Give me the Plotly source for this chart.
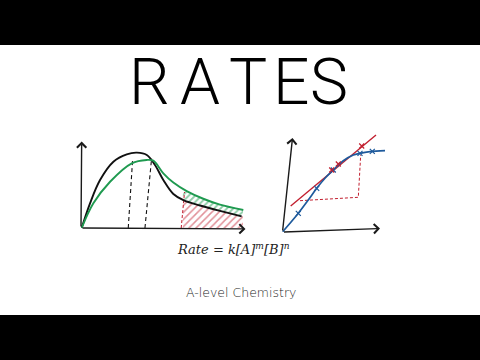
import plotly.graph_objects as go

W, H = 480, 360

# ---------- Left panel: Maxwell-Boltzmann distributions ----------
energy_black = [0.4, 5.4, 11.4, 19.4, 27.4, 33.5, 39.4, 44.3, 49.3, 55.3, 61.3, 71.3, 83.2, 96.2]
count_black = [0.0, 27.4, 53.3, 73.7, 81.9, 83.7, 81.1, 70.0, 53.3, 37.8, 31.0, 25.0, 19.0, 13.0]
energy_green = [0.4, 7.4, 17.4, 30.4, 39.3, 43.3, 49.3, 55.3, 63.3, 73.2, 83.2, 97.2]
count_green = [0.0, 27.4, 51.4, 71.9, 75.6, 74.8, 60.8, 50.5, 41.0, 32.5, 26.0, 20.0]
tail_energy = [61, 70, 80, 90, 97]
tail_black = [31.0, 26.0, 21.0, 16.0, 13.0]
tail_green = [42.0, 34.0, 28.0, 23.5, 20.0]
peak_black_x = [28.3, 30.9]
peak_black_y = [0, 75.9]
peak_green_x = [38.3, 42.3]
peak_green_y = [0, 77.8]
ea_x = [60.0, 62.0]
ea_y = [0, 40.0]
axis_left_x = [0.0, 0.4]
axis_left_y = [0.0, 96.0]
axis_bottom_x = [0.0, 98.5]
axis_bottom_y = [0.0, -1.0]

# ---------- Right panel: concentration-time curve ----------
time_blue = [0.7, 8, 16.3, 26.3, 34.7, 43, 51.3, 61.3, 71.3, 78, 88, 103]
conc_blue = [0.3, 8.7, 18.7, 32, 43.7, 53.7, 62, 71.3, 77, 78.7, 80.3, 81.3]
cross_t = [16.3, 34.7, 51.3, 78, 90.3]
cross_c = [18.7, 43.7, 62, 78.7, 80.7]
tangent_t = [8.7, 94]
tangent_c = [26, 97]
tangent_marks_t = [49.7, 56.3, 79.7]
tangent_marks_c = [62, 68, 86]
gradient_t = [18, 76.3, 78.7]
gradient_c = [31.3, 34.7, 77]
axis2_left_x = [0.5, 10.5]
axis2_left_y = [0.0, 94.0]
axis2_bottom_x = [0.5, 98.0]
axis2_bottom_y = [0.0, 3.5]

BLACK = "#111111"
GREEN = "#1f9a50"
RED = "#c21f2f"
BLUE = "#1e5a9c"

fig = go.Figure()

# hatched areas: red hatch under the black tail, green hatch between black and green tails
fig.add_trace(go.Scatter(uid="hatchred", x=tail_energy + tail_energy[::-1], y=tail_black + [0] * len(tail_energy),
                         mode="lines", line=dict(width=0), fill="toself", fillcolor="rgba(255,255,255,0)",
                         fillpattern=dict(shape="/", fgcolor=RED, size=5, solidity=0.3),
                         xaxis="x", yaxis="y", hoverinfo="skip"))
fig.add_trace(go.Scatter(uid="hatchgreen", x=tail_energy + tail_energy[::-1], y=tail_green + tail_black[::-1],
                         mode="lines", line=dict(width=0), fill="toself", fillcolor="rgba(255,255,255,0)",
                         fillpattern=dict(shape="/", fgcolor=GREEN, size=4.5, solidity=0.4),
                         xaxis="x", yaxis="y", hoverinfo="skip"))
fig.add_trace(go.Scatter(x=ea_x, y=ea_y, mode="lines", line=dict(color=RED, width=1, dash="3px,2px"),
                         xaxis="x", yaxis="y"))
fig.add_trace(go.Scatter(x=peak_black_x, y=peak_black_y, mode="lines",
                         line=dict(color=BLACK, width=1.1, dash="4px,3px"), xaxis="x", yaxis="y"))
fig.add_trace(go.Scatter(x=peak_green_x, y=peak_green_y, mode="lines",
                         line=dict(color=BLACK, width=1.1, dash="4px,3px"), xaxis="x", yaxis="y"))
fig.add_trace(go.Scatter(x=energy_black, y=count_black, mode="lines", line=dict(color=BLACK, width=1.9, shape="spline"),
                         xaxis="x", yaxis="y"))
fig.add_trace(go.Scatter(x=energy_green, y=count_green, mode="lines", line=dict(color=GREEN, width=1.9, shape="spline"),
                         xaxis="x", yaxis="y"))

# right panel traces (x2, y2)
fig.add_trace(go.Scatter(x=gradient_t, y=gradient_c, mode="lines", line=dict(color=RED, width=1, dash="3px,2px"),
                         xaxis="x2", yaxis="y2"))
fig.add_trace(go.Scatter(x=tangent_t, y=tangent_c, mode="lines", line=dict(color=RED, width=1.4),
                         xaxis="x2", yaxis="y2"))
fig.add_trace(go.Scatter(x=time_blue, y=conc_blue, mode="lines", line=dict(color=BLUE, width=1.7, shape="spline"),
                         xaxis="x2", yaxis="y2"))
fig.add_trace(go.Scatter(x=cross_t, y=cross_c, mode="markers",
                         marker=dict(symbol="x-thin", size=5, line=dict(color=BLUE, width=1.2)),
                         xaxis="x2", yaxis="y2"))
fig.add_trace(go.Scatter(x=tangent_marks_t, y=tangent_marks_c, mode="markers",
                         marker=dict(symbol="x-thin", size=5, line=dict(color=RED, width=1.2)),
                         xaxis="x2", yaxis="y2"))

annotations = []
# hand-drawn style axes with chevron arrow tips
for ax_x, ax_y, xr, yr in [(axis_left_x, axis_left_y, "x", "y"), (axis_bottom_x, axis_bottom_y, "x", "y"),
                           (axis2_left_x, axis2_left_y, "x2", "y2"), (axis2_bottom_x, axis2_bottom_y, "x2", "y2")]:
    annotations.append(dict(x=ax_x[1], y=ax_y[1], ax=ax_x[0], ay=ax_y[0], xref=xr, yref=yr, axref=xr, ayref=yr,
                            showarrow=True, arrowhead=4, arrowsize=1.3, arrowwidth=1.4,
                            arrowcolor="#1a1a1a", text=""))

# title letters
title_letters = ["R", "A", "T", "E", "S"]
title_centers = [149, 200, 248, 291, 329]
for ch, cx in zip(title_letters, title_centers):
    annotations.append(dict(x=cx / W, y=(H - 83) / H, xref="paper", yref="paper", text=ch, showarrow=False,
                            xanchor="center", yanchor="middle",
                            font=dict(family="Roboto", size=64, color="#000000", weight=300)))

annotations.append(dict(x=233 / W, y=(H - 259) / H, xref="paper", yref="paper", showarrow=False,
                        text="<i>Rate = k[A]<sup>m</sup>[B]<sup>n</sup></i>",
                        font=dict(family="DejaVu Serif", size=13, color="#222222")))
annotations.append(dict(x=241 / W, y=(H - 302) / H, xref="paper", yref="paper", showarrow=False,
                        text="A-level Chemistry",
                        font=dict(family="DejaVu Sans", size=12.5, color="#222222", weight=300)))

shapes = [
    dict(type="rect", xref="paper", yref="paper", x0=0, x1=1, y0=1 - 45 / H, y1=1,
         fillcolor="#000000", line=dict(width=0), layer="below"),
    dict(type="rect", xref="paper", yref="paper", x0=0, x1=1, y0=0, y1=45 / H,
         fillcolor="#000000", line=dict(width=0), layer="below"),
]

hidden = dict(visible=False, showgrid=False, zeroline=False, fixedrange=True)
fig.update_layout(
    width=W, height=H, margin=dict(l=0, r=0, t=0, b=0),
    paper_bgcolor="#ffffff", plot_bgcolor="rgba(0,0,0,0)", showlegend=False,
    xaxis=dict(domain=[81 / W, 248 / W], range=[0, 100], **hidden),
    yaxis=dict(domain=[(H - 228) / H, (H - 138) / H], range=[0, 100], **hidden),
    xaxis2=dict(domain=[282 / W, 387 / W], range=[0, 105], **hidden),
    yaxis2=dict(domain=[(H - 232) / H, (H - 132) / H], range=[0, 100], **hidden),
    annotations=annotations, shapes=shapes,
)

fig.write_html("out.html")
